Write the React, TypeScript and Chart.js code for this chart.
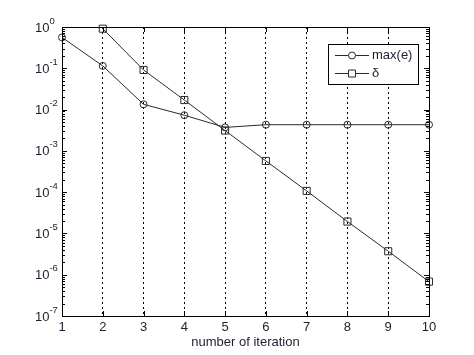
import React, { useEffect, useRef } from 'react';
import { Chart, registerables } from 'chart.js';
Chart.register(...registerables);

const iterations = [1, 2, 3, 4, 5, 6, 7, 8, 9, 10];
const maxE = [0.56, 0.114, 0.0134, 0.0073, 0.0037, 0.0043, 0.0043, 0.0043, 0.0043, 0.0043];
const delta = [null, 0.91, 0.091, 0.017, 0.0031, 5.7e-4, 1.07e-4, 1.94e-5, 3.7e-6, 6.8e-7];
const yExponents = [0, -1, -2, -3, -4, -5, -6, -7];
const seriesLabels = ['max(e)', 'δ'];
const xTitle = 'number of iteration';

const FONT = '"Liberation Sans", Arial, sans-serif';
const LINE = '#2a2a2a';
const TEXT = '#1e1e30';

const decorPlugin = {
  id: 'decor',
  afterDraw(chart: any) {
    const ctx = chart.ctx;
    const { left, right, top, bottom } = chart.chartArea;
    const xs = chart.scales.x;
    const ys = chart.scales.y;
    ctx.save();
    ctx.strokeStyle = '#000';
    ctx.lineWidth = 1;
    ctx.setLineDash([]);
    ctx.strokeRect(Math.round(left) + 0.5, Math.round(top) + 0.5, Math.round(right - left), Math.round(bottom - top));
    ctx.beginPath();
    for (const v of iterations) {
      const px = Math.round(xs.getPixelForValue(v)) + 0.5;
      ctx.moveTo(px, bottom); ctx.lineTo(px, bottom - 5);
      ctx.moveTo(px, top); ctx.lineTo(px, top + 5);
    }
    for (const e of yExponents) {
      const py = Math.round(ys.getPixelForValue(Math.pow(10, e))) + 0.5;
      ctx.moveTo(left, py); ctx.lineTo(left + 5, py);
      ctx.moveTo(right, py); ctx.lineTo(right - 5, py);
      if (e > -7) {
        for (let m = 2; m <= 9; m++) {
          const pm = Math.round(ys.getPixelForValue(m * Math.pow(10, e - 1))) + 0.5;
          ctx.moveTo(left, pm); ctx.lineTo(left + 3, pm);
          ctx.moveTo(right, pm); ctx.lineTo(right - 3, pm);
        }
      }
    }
    ctx.stroke();
    ctx.fillStyle = TEXT;
    ctx.textAlign = 'left';
    ctx.textBaseline = 'middle';
    for (const e of yExponents) {
      const py = ys.getPixelForValue(Math.pow(10, e));
      ctx.font = `13px ${FONT}`;
      const base = '10';
      const w = ctx.measureText(base).width;
      const x0 = left - 27;
      ctx.fillText(base, x0, py + 1);
      ctx.font = `9.5px ${FONT}`;
      ctx.fillText(String(e), x0 + w, py - 6);
    }
    const lx = 328.5, ly = 44.5, lw = 90, lh = 40;
    ctx.fillStyle = '#fff';
    ctx.fillRect(lx, ly, lw, lh);
    ctx.strokeStyle = '#000';
    ctx.strokeRect(lx, ly, lw, lh);
    const rows = [55, 73];
    seriesLabels.forEach((lab, i) => {
      const y = rows[i] + 0.5;
      ctx.strokeStyle = LINE;
      ctx.beginPath();
      ctx.moveTo(335, y); ctx.lineTo(369, y);
      ctx.stroke();
      ctx.beginPath();
      if (i === 0) {
        ctx.arc(352, y, 3.5, 0, Math.PI * 2);
      } else {
        ctx.rect(348.5, y - 3.5, 7, 7);
      }
      ctx.fillStyle = '#fff';
      ctx.fill();
      ctx.stroke();
      ctx.fillStyle = TEXT;
      ctx.font = `13px ${FONT}`;
      ctx.textBaseline = 'middle';
      ctx.fillText(lab, 372, y);
    });
    ctx.restore();
  },
};

export default function App() {
  const ref = useRef<HTMLCanvasElement>(null);
  useEffect(() => {
    const canvas = ref.current!;
    const chart = new Chart(canvas, {
      type: 'line',
      data: {
        datasets: [
          {
            label: seriesLabels[0],
            data: iterations.map((x, i) => ({ x, y: maxE[i] })),
            borderColor: LINE,
            borderWidth: 1,
            pointStyle: 'circle',
            pointRadius: 3.5,
            pointBorderColor: LINE,
            pointBackgroundColor: 'rgba(0,0,0,0)',
            pointBorderWidth: 1,
            tension: 0,
            clip: false,
          },
          {
            label: seriesLabels[1],
            data: iterations.map((x, i) => ({ x, y: delta[i] })).filter((p) => p.y !== null),
            borderColor: LINE,
            borderWidth: 1,
            pointStyle: 'rect',
            pointRadius: 5,
            pointBorderColor: LINE,
            pointBackgroundColor: 'rgba(0,0,0,0)',
            pointBorderWidth: 1,
            tension: 0,
            clip: false,
          },
        ],
      },
      options: {
        animation: false,
        responsive: false,
        devicePixelRatio: 1,
        layout: { padding: { top: 27, right: 45, left: 0, bottom: 0 } },
        plugins: { legend: { display: false }, tooltip: { enabled: false } },
        scales: {
          x: {
            type: 'linear',
            min: 1,
            max: 10,
            afterBuildTicks: (scale: any) => {
              scale.ticks = iterations.map((v) => ({ value: v }));
            },
            afterFit: (scale: any) => {
              scale.height = 39;
            },
            ticks: {
              color: TEXT,
              font: { family: FONT, size: 13 },
              padding: 4,
              maxRotation: 0,
            },
            grid: { color: '#000', lineWidth: 1, drawTicks: false },
            border: { display: false, dash: [2, 3] },
            title: {
              display: true,
              text: xTitle,
              color: TEXT,
              font: { family: FONT, size: 13 },
              padding: { top: 0, bottom: 5 },
            },
          },
          y: {
            type: 'logarithmic',
            min: 1e-7,
            max: 1,
            afterFit: (scale: any) => {
              scale.width = 62;
            },
            ticks: { display: false },
            grid: { display: false },
            border: { display: false },
          },
        },
      },
      plugins: [decorPlugin],
    });
    return () => chart.destroy();
  }, []);
  return (
    <div style={{ position: 'fixed', left: 0, top: 0, width: 474, height: 355, background: '#fff' }}>
      <canvas ref={ref} width={474} height={355} />
    </div>
  );
}
